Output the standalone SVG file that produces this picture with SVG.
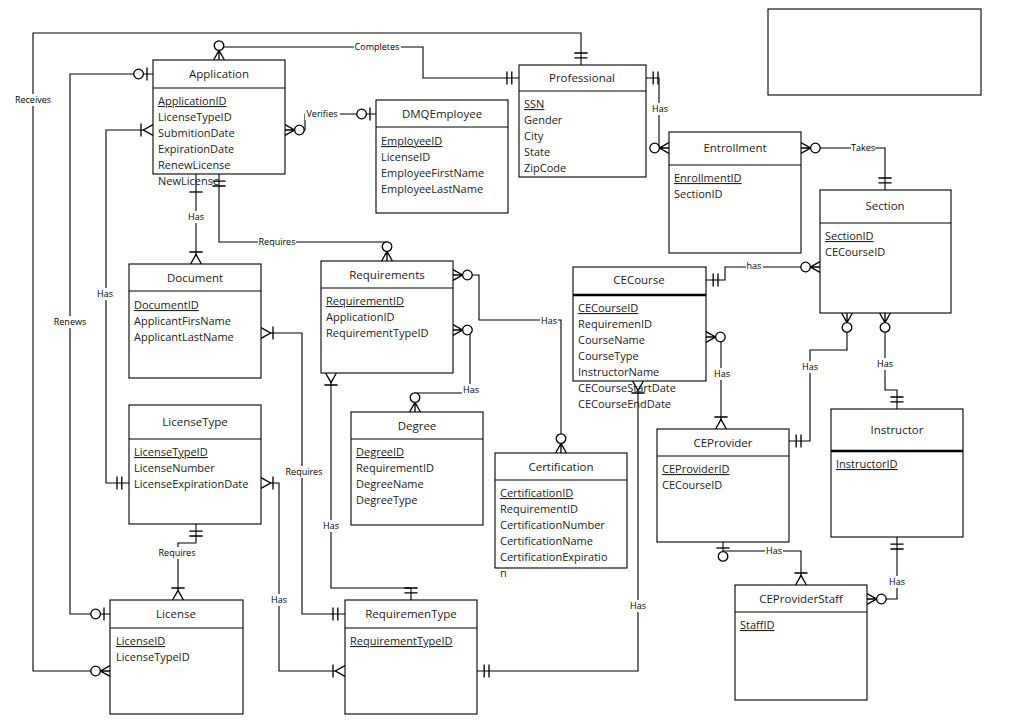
<svg xmlns="http://www.w3.org/2000/svg" width="1013" height="728" viewBox="0 0 1013 728">
<style>
.box{fill:#fff;stroke:#000;stroke-width:1.1}
.hl{stroke:#000;stroke-width:1.1}
.thick{stroke:#000;stroke-width:2.5}
.t{font-family:"Open Sans","Noto Sans",sans-serif;font-size:11.5px;fill:#222;text-anchor:middle}
.a{font-family:"Open Sans","Noto Sans",sans-serif;font-size:11px;fill:#222}
.u{text-decoration:underline}
.l{font-family:"Open Sans","Noto Sans",sans-serif;font-size:9px;fill:#000;text-anchor:middle}
.lb{fill:#fff}
.c{fill:none;stroke:#000;stroke-width:1.1}
.m{fill:#fff;stroke:#000;stroke-width:1.1}
</style>
<defs>
<marker id="zm" markerUnits="userSpaceOnUse" markerWidth="24" markerHeight="24" viewBox="-20 -10 20 20" refX="0" refY="0" orient="auto-start-reverse" overflow="visible"><path class="m" d="M0,-4.5 L-8,0 L0,4.5 M-8,0 H0"/><circle class="m" cx="-12" cy="0" r="4"/></marker>
<marker id="om" markerUnits="userSpaceOnUse" markerWidth="24" markerHeight="24" viewBox="-20 -10 20 20" refX="0" refY="0" orient="auto-start-reverse" overflow="visible"><path class="m" d="M0,-4.5 L-8,0 L0,4.5 M-10,-5.5 V5.5"/></marker>
<marker id="zo" markerUnits="userSpaceOnUse" markerWidth="24" markerHeight="24" viewBox="-20 -10 20 20" refX="0" refY="0" orient="auto-start-reverse" overflow="visible"><path class="m" d="M-5,-5.5 V5.5"/><circle class="m" cx="-12" cy="0" r="4"/></marker>
<marker id="oo" markerUnits="userSpaceOnUse" markerWidth="24" markerHeight="24" viewBox="-20 -10 20 20" refX="0" refY="0" orient="auto-start-reverse" overflow="visible"><path class="m" d="M-6,-5.5 V5.5 M-10,-5.5 V5.5"/></marker>
<marker id="on" markerUnits="userSpaceOnUse" markerWidth="24" markerHeight="24" viewBox="-20 -10 20 20" refX="0" refY="0" orient="auto-start-reverse" overflow="visible"><path class="m" d="M-15,-5.5 V5.5"/></marker>
</defs>
<rect class="box" x="768" y="9" width="213" height="86"/>
<g id="connectors">
<path class="c" d="M581,65 V33 H33 V671 H110" marker-start="url(#oo)" marker-end="url(#zm)"/>
<path class="c" d="M219,60 V47 H423 V78 H519" marker-start="url(#zm)" marker-end="url(#oo)"/>
<path class="c" d="M153,74 H70 V614 H110" marker-start="url(#zo)" marker-end="url(#zo)"/>
<path class="c" d="M153,130 H106 V483 H129" marker-start="url(#om)" marker-end="url(#oo)"/>
<path class="c" d="M285,130 H305 V114 H376" marker-start="url(#zm)" marker-end="url(#zo)"/>
<path class="c" d="M196,174 V264" marker-start="url(#on)" marker-end="url(#om)"/>
<path class="c" d="M219,174 V242 H387 V261" marker-start="url(#oo)" marker-end="url(#zm)"/>
<path class="c" d="M646,78 H659 V148 H669" marker-start="url(#oo)" marker-end="url(#zm)"/>
<path class="c" d="M801,148 H885 V190" marker-start="url(#zm)" marker-end="url(#oo)"/>
<path class="c" d="M706,280 H725 V267 H820" marker-start="url(#oo)" marker-end="url(#zm)"/>
<path class="c" d="M453,275 H479 V320 H561 V453" marker-start="url(#zm)" marker-end="url(#zm)"/>
<path class="c" d="M453,330 H470 V393 H415 V412" marker-start="url(#zm)" marker-end="url(#zm)"/>
<path class="c" d="M261,333 H302 V614 H345" marker-start="url(#om)" marker-end="url(#oo)"/>
<path class="c" d="M261,483 H279 V671 H345" marker-start="url(#om)" marker-end="url(#om)"/>
<path class="c" d="M331,373 V588 H411 V600" marker-start="url(#om)" marker-end="url(#oo)"/>
<path class="c" d="M196,524 V543 H178 V600" marker-start="url(#oo)" marker-end="url(#om)"/>
<path class="c" d="M638,381 V671 H477" marker-start="url(#om)" marker-end="url(#oo)"/>
<path class="c" d="M706,337 H721 V429" marker-start="url(#zm)" marker-end="url(#om)"/>
<path class="c" d="M847,313 V350 H810 V441 H789" marker-start="url(#zm)" marker-end="url(#oo)"/>
<path class="c" d="M885,313 V390 H897 V409" marker-start="url(#zm)" marker-end="url(#oo)"/>
<path class="c" d="M723,542 V551 H801 V585" marker-start="url(#zo)" marker-end="url(#om)"/>
<path class="c" d="M897,537 V599 H867" marker-start="url(#oo)" marker-end="url(#zm)"/>
<g class="lb">
<rect x="14" y="94" width="38" height="12"/><rect x="354" y="41" width="47" height="12"/><rect x="53" y="316" width="34" height="12"/><rect x="96" y="288" width="18" height="12"/><rect x="305" y="108" width="35" height="12"/><rect x="187" y="211" width="18" height="12"/><rect x="258" y="236" width="38" height="12"/><rect x="651" y="103" width="18" height="12"/><rect x="851" y="142" width="24" height="12"/><rect x="746" y="260" width="17" height="12"/><rect x="540" y="315" width="18" height="12"/><rect x="462" y="384" width="18" height="12"/><rect x="285" y="466" width="38" height="12"/><rect x="270" y="594" width="18" height="12"/><rect x="322" y="520" width="18" height="12"/><rect x="158" y="547" width="38" height="12"/><rect x="629" y="600" width="18" height="12"/><rect x="713" y="368" width="18" height="12"/><rect x="801" y="361" width="18" height="12"/><rect x="876" y="358" width="18" height="12"/><rect x="765" y="545" width="18" height="12"/><rect x="888" y="576" width="18" height="12"/>
</g>
<text class="l" x="33" y="103">Receives</text>
<text class="l" x="377" y="50">Completes</text>
<text class="l" x="70" y="325">Renews</text>
<text class="l" x="105" y="297">Has</text>
<text class="l" x="322" y="117">Verifies</text>
<text class="l" x="196" y="220">Has</text>
<text class="l" x="277" y="245">Requires</text>
<text class="l" x="660" y="112">Has</text>
<text class="l" x="863" y="151">Takes</text>
<text class="l" x="754" y="269">has</text>
<text class="l" x="549" y="324">Has</text>
<text class="l" x="471" y="393">Has</text>
<text class="l" x="304" y="475">Requires</text>
<text class="l" x="279" y="603">Has</text>
<text class="l" x="331" y="529">Has</text>
<text class="l" x="177" y="556">Requires</text>
<text class="l" x="638" y="609">Has</text>
<text class="l" x="722" y="377">Has</text>
<text class="l" x="810" y="370">Has</text>
<text class="l" x="885" y="367">Has</text>
<text class="l" x="774" y="554">Has</text>
<text class="l" x="897" y="585">Has</text>
</g>
<g id="Application"><rect class="box" x="153" y="60" width="132" height="114"/><line class="hl" x1="153" y1="88" x2="285" y2="88"/><text class="t" x="219" y="78">Application</text>
<text class="a" x="158" y="105"><tspan class="u">ApplicationID</tspan><tspan x="158" dy="16">LicenseTypeID</tspan><tspan x="158" dy="16">SubmitionDate</tspan><tspan x="158" dy="16">ExpirationDate</tspan><tspan x="158" dy="16">RenewLicense</tspan><tspan x="158" dy="16">NewLicense</tspan></text></g>
<g id="DMQEmployee"><rect class="box" x="376" y="100" width="132" height="113"/><line class="hl" x1="376" y1="127" x2="508" y2="127"/><text class="t" x="442" y="118">DMQEmployee</text>
<text class="a" x="381" y="145"><tspan class="u">EmployeeID</tspan><tspan x="381" dy="16">LicenseID</tspan><tspan x="381" dy="16">EmployeeFirstName</tspan><tspan x="381" dy="16">EmployeeLastName</tspan></text></g>
<g id="Professional"><rect class="box" x="519" y="65" width="127" height="112"/><line class="hl" x1="519" y1="91" x2="646" y2="91"/><text class="t" x="582" y="82">Professional</text>
<text class="a" x="524" y="108"><tspan class="u">SSN</tspan><tspan x="524" dy="16">Gender</tspan><tspan x="524" dy="16">City</tspan><tspan x="524" dy="16">State</tspan><tspan x="524" dy="16">ZipCode</tspan></text></g>
<g id="Entrollment"><rect class="box" x="669" y="132" width="132" height="121"/><line class="hl" x1="669" y1="165" x2="801" y2="165"/><text class="t" x="735" y="152">Entrollment</text>
<text class="a" x="674" y="182"><tspan class="u">EnrollmentID</tspan><tspan x="674" dy="16">SectionID</tspan></text></g>
<g id="Section"><rect class="box" x="820" y="190" width="131" height="123"/><line class="hl" x1="820" y1="223" x2="951" y2="223"/><text class="t" x="885" y="210">Section</text>
<text class="a" x="825" y="240"><tspan class="u">SectionID</tspan><tspan x="825" dy="16">CECourseID</tspan></text></g>
<g id="Document"><rect class="box" x="129" y="264" width="132" height="114"/><line class="hl" x1="129" y1="291" x2="261" y2="291"/><text class="t" x="195" y="282">Document</text>
<text class="a" x="134" y="309"><tspan class="u">DocumentID</tspan><tspan x="134" dy="16">ApplicantFirsName</tspan><tspan x="134" dy="16">ApplicantLastName</tspan></text></g>
<g id="Requirements"><rect class="box" x="321" y="261" width="132" height="112"/><line class="hl" x1="321" y1="288" x2="453" y2="288"/><text class="t" x="387" y="279">Requirements</text>
<text class="a" x="326" y="305"><tspan class="u">RequirementID</tspan><tspan x="326" dy="16">ApplicationID</tspan><tspan x="326" dy="16">RequirementTypeID</tspan></text></g>
<g id="CECourse"><rect class="box" x="573" y="267" width="133" height="114"/><line class="thick" x1="573" y1="295" x2="706" y2="295"/><text class="t" x="639" y="284">CECourse</text>
<text class="a" x="578" y="312"><tspan class="u">CECourseID</tspan><tspan x="578" dy="16">RequiremenID</tspan><tspan x="578" dy="16">CourseName</tspan><tspan x="578" dy="16">CourseType</tspan><tspan x="578" dy="16">InstructorName</tspan><tspan x="578" dy="16">CECourseStartDate</tspan><tspan x="578" dy="16">CECourseEndDate</tspan></text></g>
<g id="Degree"><rect class="box" x="351" y="412" width="132" height="113"/><line class="hl" x1="351" y1="439" x2="483" y2="439"/><text class="t" x="417" y="430">Degree</text>
<text class="a" x="356" y="456"><tspan class="u">DegreeID</tspan><tspan x="356" dy="16">RequirementID</tspan><tspan x="356" dy="16">DegreeName</tspan><tspan x="356" dy="16">DegreeType</tspan></text></g>
<g id="Certification"><rect class="box" x="495" y="453" width="132" height="115"/><line class="hl" x1="495" y1="480" x2="627" y2="480"/><text class="t" x="561" y="471">Certification</text>
<text class="a" x="500" y="497"><tspan class="u">CertificationID</tspan><tspan x="500" dy="16">RequirementID</tspan><tspan x="500" dy="16">CertificationNumber</tspan><tspan x="500" dy="16">CertificationName</tspan><tspan x="500" dy="16">CertificationExpiratio</tspan><tspan x="500" dy="16">n</tspan></text></g>
<g id="LicenseType"><rect class="box" x="129" y="405" width="132" height="119"/><line class="hl" x1="129" y1="439" x2="261" y2="439"/><text class="t" x="195" y="426">LicenseType</text>
<text class="a" x="134" y="456"><tspan class="u">LicenseTypeID</tspan><tspan x="134" dy="16">LicenseNumber</tspan><tspan x="134" dy="16">LicenseExpirationDate</tspan></text></g>
<g id="CEProvider"><rect class="box" x="657" y="429" width="132" height="113"/><line class="hl" x1="657" y1="456" x2="789" y2="456"/><text class="t" x="723" y="447">CEProvider</text>
<text class="a" x="662" y="473"><tspan class="u">CEProviderID</tspan><tspan x="662" dy="16">CECourseID</tspan></text></g>
<g id="Instructor"><rect class="box" x="831" y="409" width="132" height="128"/><line class="thick" x1="831" y1="451" x2="963" y2="451"/><text class="t" x="897" y="434">Instructor</text>
<text class="a" x="836" y="468"><tspan class="u">InstructorID</tspan></text></g>
<g id="License"><rect class="box" x="110" y="600" width="133" height="114"/><line class="hl" x1="110" y1="628" x2="243" y2="628"/><text class="t" x="176" y="618">License</text>
<text class="a" x="116" y="645"><tspan class="u">LicenseID</tspan><tspan x="116" dy="16">LicenseTypeID</tspan></text></g>
<g id="RequirementType"><rect class="box" x="345" y="600" width="132" height="114"/><line class="hl" x1="345" y1="628" x2="477" y2="628"/><text class="t" x="411" y="618">RequiremenType</text>
<text class="a" x="350" y="645"><tspan class="u">RequirementTypeID</tspan></text></g>
<g id="CEProviderStaff"><rect class="box" x="735" y="585" width="132" height="115"/><line class="hl" x1="735" y1="612" x2="867" y2="612"/><text class="t" x="801" y="603">CEProviderStaff</text>
<text class="a" x="740" y="629"><tspan class="u">StaffID</tspan></text></g>
</svg>
